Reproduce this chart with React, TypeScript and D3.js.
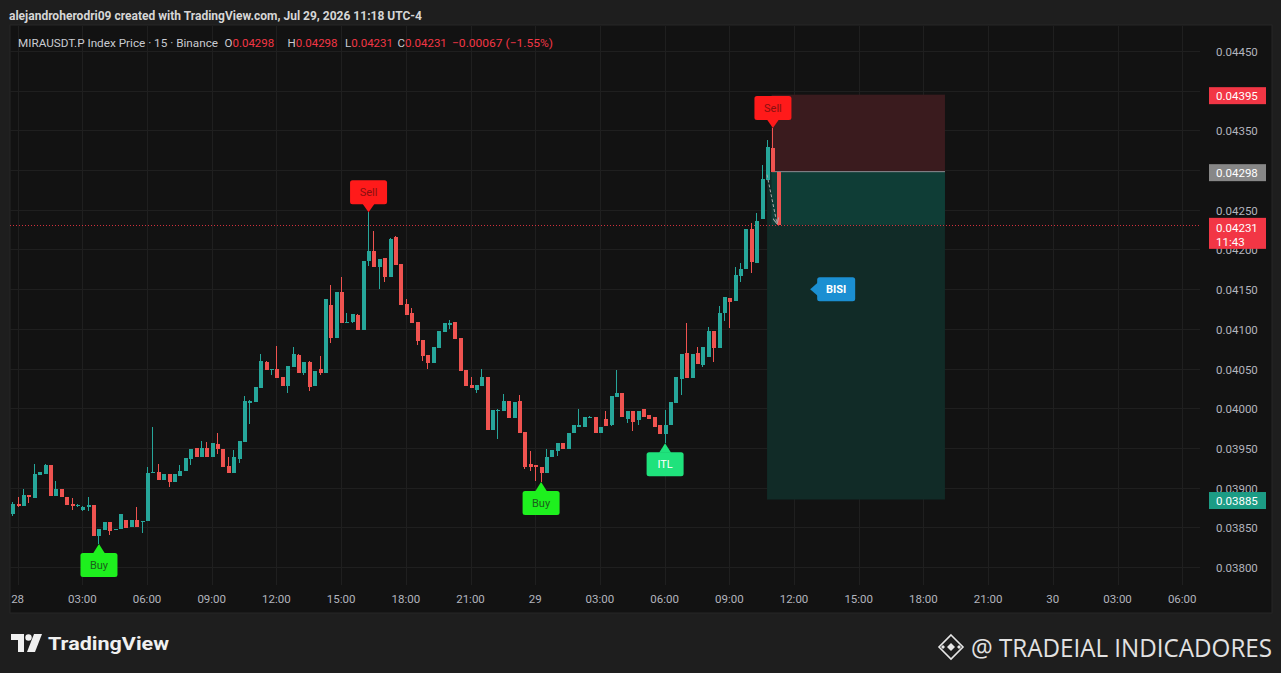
import React from "react";
import * as d3 from "d3";

// 15m candles, first bar 27 Jul 23:45
const open = [
  0.03867, 0.03879, 0.03877, 0.03891, 0.03887, 0.03916, 0.03917, 0.03928, 0.03889, 0.03898, 0.03888, 0.03879,
  0.03877, 0.03872, 0.03875, 0.03878, 0.03839, 0.03846, 0.03857, 0.03847, 0.03848, 0.03859, 0.0385, 0.03859,
  0.03857, 0.03858, 0.03918, 0.0392, 0.03909, 0.03917, 0.03907, 0.03915, 0.03921, 0.03936, 0.0395, 0.03939,
  0.0395, 0.03939, 0.03955, 0.03949, 0.03927, 0.03918, 0.03936, 0.03957, 0.04006, 0.04008, 0.04025, 0.04058,
  0.04048, 0.04049, 0.04039, 0.04028, 0.04052, 0.04067, 0.04044, 0.04058, 0.04028, 0.04049, 0.04044, 0.0413,
  0.04088, 0.04146, 0.04107, 0.04108, 0.04118, 0.04099, 0.04185, 0.04198, 0.04178, 0.04189, 0.04165, 0.04216,
  0.04182, 0.04131, 0.0412, 0.04108, 0.04086, 0.04067, 0.04057, 0.04076, 0.04096, 0.04105, 0.04108, 0.04088,
  0.04048, 0.04029, 0.04023, 0.04028, 0.04039, 0.03973, 0.03996, 0.03996, 0.04009, 0.03988, 0.04009, 0.0397,
  0.0393, 0.03928, 0.03926, 0.03918, 0.03939, 0.03946, 0.03956, 0.03949, 0.03969, 0.03976, 0.03976, 0.03989,
  0.03989, 0.03969, 0.03986, 0.03979, 0.04014, 0.04019, 0.03986, 0.03996, 0.03985, 0.03999, 0.03991, 0.03989,
  0.03979, 0.03967, 0.03979, 0.04006, 0.04037, 0.04069, 0.04038, 0.04069, 0.04054, 0.04064, 0.04097, 0.04076,
  0.0412, 0.04139, 0.04135, 0.04167, 0.04175, 0.04226, 0.04183, 0.04238, 0.04287, 0.04328, 0.04298,
];
const high = [
  0.03882, 0.03888, 0.03898, 0.03891, 0.0393, 0.0392, 0.0393, 0.03929, 0.03908, 0.03898, 0.03888, 0.03887,
  0.03879, 0.03877, 0.03888, 0.03878, 0.03848, 0.03857, 0.03857, 0.03848, 0.03867, 0.03859, 0.03859, 0.03875,
  0.03858, 0.03926, 0.03976, 0.0393, 0.03917, 0.03917, 0.03917, 0.03928, 0.03937, 0.03949, 0.0395, 0.03959,
  0.03957, 0.03956, 0.03969, 0.03949, 0.03939, 0.03947, 0.03959, 0.04015, 0.0401, 0.04027, 0.04068, 0.04059,
  0.04049, 0.04078, 0.04039, 0.04053, 0.04077, 0.04068, 0.04058, 0.04059, 0.04047, 0.04066, 0.04138, 0.04155,
  0.04146, 0.04165, 0.0412, 0.04119, 0.04119, 0.04185, 0.04247, 0.04223, 0.04188, 0.04189, 0.04214, 0.04217,
  0.04182, 0.04137, 0.04126, 0.04108, 0.04086, 0.04067, 0.04077, 0.04097, 0.04107, 0.04111, 0.04108, 0.04088,
  0.04048, 0.04039, 0.04029, 0.04049, 0.04039, 0.03998, 0.03999, 0.04018, 0.04009, 0.04008, 0.04017, 0.0397,
  0.03946, 0.03928, 0.03926, 0.03949, 0.03947, 0.03956, 0.03956, 0.03969, 0.03979, 0.03999, 0.03989, 0.0399,
  0.03989, 0.03976, 0.03996, 0.04015, 0.04048, 0.04019, 0.03996, 0.03996, 0.03996, 0.03999, 0.03991, 0.03989,
  0.03979, 0.03998, 0.04008, 0.04039, 0.04068, 0.04107, 0.04068, 0.04077, 0.04077, 0.04102, 0.04097, 0.04129,
  0.0414, 0.04139, 0.04178, 0.04183, 0.04226, 0.04233, 0.04246, 0.04306, 0.04338, 0.04353, 0.04298,
];
const low = [
  0.03864, 0.03875, 0.03877, 0.0388, 0.03887, 0.03916, 0.03917, 0.03889, 0.03889, 0.03888, 0.03878, 0.03872,
  0.03876, 0.0387, 0.0387, 0.03839, 0.03829, 0.03846, 0.0384, 0.03846, 0.03848, 0.03849, 0.0385, 0.0385,
  0.03843, 0.03858, 0.03918, 0.03909, 0.03909, 0.03901, 0.03907, 0.03915, 0.03921, 0.03928, 0.03939, 0.03939,
  0.03939, 0.03939, 0.03942, 0.03926, 0.03918, 0.03918, 0.03931, 0.03957, 0.0398, 0.04008, 0.04025, 0.04048,
  0.04042, 0.04038, 0.04028, 0.04019, 0.04052, 0.04045, 0.04042, 0.04022, 0.04028, 0.04042, 0.04044, 0.04082,
  0.04088, 0.04107, 0.04107, 0.04107, 0.04099, 0.04099, 0.04179, 0.04178, 0.0415, 0.04159, 0.04165, 0.0418,
  0.0413, 0.04118, 0.04107, 0.0408, 0.04059, 0.04049, 0.04057, 0.04076, 0.04096, 0.041, 0.04087, 0.04047,
  0.04028, 0.04025, 0.04019, 0.04028, 0.03972, 0.03973, 0.03961, 0.03996, 0.03988, 0.03988, 0.03969, 0.03923,
  0.03921, 0.03908, 0.03907, 0.03918, 0.03939, 0.0394, 0.03949, 0.03949, 0.03969, 0.03976, 0.03976, 0.03988,
  0.03969, 0.03969, 0.03977, 0.03977, 0.04014, 0.03989, 0.03981, 0.03971, 0.03979, 0.03989, 0.03986, 0.03976,
  0.03967, 0.03956, 0.03979, 0.04006, 0.04017, 0.04038, 0.04038, 0.04056, 0.04052, 0.04064, 0.04058, 0.04076,
  0.0411, 0.04101, 0.04135, 0.04159, 0.04175, 0.0417, 0.04183, 0.04238, 0.04287, 0.04298, 0.04231,
];
const close = [
  0.03879, 0.03877, 0.03891, 0.03888, 0.03917, 0.0392, 0.03928, 0.03889, 0.03898, 0.03888, 0.03878, 0.03877,
  0.03878, 0.03875, 0.03878, 0.03839, 0.03848, 0.03857, 0.03845, 0.03848, 0.03867, 0.03849, 0.03859, 0.0385,
  0.03858, 0.03918, 0.0392, 0.03909, 0.03917, 0.03907, 0.03917, 0.03921, 0.03937, 0.03949, 0.03939, 0.0395,
  0.03939, 0.03956, 0.03949, 0.03926, 0.03918, 0.03939, 0.03959, 0.04009, 0.04009, 0.04027, 0.04059, 0.04048,
  0.04049, 0.04038, 0.04028, 0.04053, 0.04068, 0.04045, 0.04058, 0.04027, 0.04047, 0.04044, 0.04137, 0.04088,
  0.04146, 0.04107, 0.04109, 0.04119, 0.04099, 0.04185, 0.04198, 0.04178, 0.04188, 0.04165, 0.04213, 0.0418,
  0.0413, 0.04118, 0.04107, 0.04085, 0.04066, 0.04057, 0.04077, 0.04097, 0.04107, 0.04107, 0.04087, 0.04047,
  0.04028, 0.04025, 0.04029, 0.04039, 0.03972, 0.03998, 0.03998, 0.04009, 0.03988, 0.04008, 0.03969, 0.03926,
  0.03926, 0.03926, 0.03918, 0.03939, 0.03947, 0.03956, 0.03949, 0.03969, 0.03979, 0.03979, 0.03989, 0.03989,
  0.03969, 0.03976, 0.03977, 0.04015, 0.04019, 0.03989, 0.03996, 0.03983, 0.03996, 0.03989, 0.03986, 0.03976,
  0.03967, 0.03979, 0.04008, 0.04039, 0.04068, 0.04038, 0.04068, 0.04056, 0.04077, 0.04097, 0.04076, 0.0412,
  0.0414, 0.04134, 0.04168, 0.04175, 0.04226, 0.04184, 0.04236, 0.04289, 0.04329, 0.04298, 0.04231,
];

const priceTicks = [
  0.038, 0.0385, 0.039, 0.0395, 0.04, 0.0405, 0.041, 0.0415, 0.042, 0.0425, 0.043, 0.0435, 0.044, 0.0445,
];

// indicator labels: bar index, text, style
const signals = [
  { bar: 16, text: "Buy", kind: "buy" },
  { bar: 66, text: "Sell", kind: "sell" },
  { bar: 98, text: "Buy", kind: "buy" },
  { bar: 121, text: "ITL", kind: "itl" },
  { bar: 141, text: "Sell", kind: "sell" },
];

// short position tool
const entry = 0.04298;
const stop = 0.04395;
const target = 0.03885;
const lastPrice = 0.04231;
const positionStartBar = 140;
const positionEnd = new Date(Date.UTC(2026, 6, 29, 19, 0));
const bisiTime = new Date(Date.UTC(2026, 6, 29, 12, 45));
const bisiPrice = 0.0415;

const firstBar = Date.UTC(2026, 6, 27, 23, 45);
const barMs = 15 * 60 * 1000;
const times = open.map((_, i) => new Date(firstBar + i * barMs));

const UP = "#26a69a";
const DOWN = "#ef5350";
const AXIS_TEXT = "#b2b5be";
const FONT = "Roboto, 'Noto Sans', sans-serif";

const labelStyle: Record<string, { fill: string; text: string }> = {
  buy: { fill: "#1ef01e", text: "#1b5e1b" },
  sell: { fill: "#ff1a1a", text: "#8a1010" },
  itl: { fill: "#1fe27c", text: "#ffffff" },
};

const fmt = (v: number) => v.toFixed(5);

const App = () => {
  const W = 1281,
    H = 673;
  const plotLeft = 10,
    plotRight = 1200,
    plotBottom = 585;

  const x = d3
    .scaleUtc()
    .domain([new Date(Date.UTC(2026, 6, 28, 0)), new Date(Date.UTC(2026, 6, 30, 6))])
    .range([17.6, 1182.2]);
  const y = d3.scaleLinear().domain([0.038, 0.0445]).range([567, 51]);

  const timeTicks = x.ticks(d3.utcHour.every(3) as any);
  const timeLabel = (d: Date) =>
    d.getUTCHours() === 0 ? d3.utcFormat("%-d")(d) : d3.utcFormat("%H:%M")(d);

  const last = open.length - 1;
  const posLeft = x(times[positionStartBar]);
  const posRight = x(positionEnd);
  const yEntry = y(entry),
    yStop = y(stop),
    yTarget = y(target),
    yLast = y(lastPrice);

  const arrowFrom = [posLeft, yEntry + 3];
  const arrowTo = [x(times[last]) - 1, yLast - 2];

  const bx = x(bisiTime),
    by = y(bisiPrice);

  const ohlc: [string, number, number][] = [
    ["O", open[last], 224.5],
    ["H", high[last], 287.5],
    ["L", low[last], 345],
    ["C", close[last], 397.5],
  ];

  return (
    <div style={{ position: "fixed", left: 0, top: 0 }}>
      <svg width={W} height={H} style={{ display: "block" }} fontFamily={FONT}>
        <defs>
          <marker id="arr" viewBox="0 0 6 6" refX="5" refY="3" markerWidth="6" markerHeight="6" orient="auto">
            <path d="M0,0 L6,3 L0,6" fill="none" stroke="#a8a8a8" strokeWidth="1" />
          </marker>
        </defs>
        <rect width={W} height={H} fill="#1e1e1e" />

        <text x={9} y={15.5} dominantBaseline="central" fill="#d6d6d6" fontSize={12.5} fontWeight={700}
          textLength={413} lengthAdjust="spacingAndGlyphs">
          alejandroherodri09 created with TradingView.com, Jul 29, 2026 11:18 UTC-4
        </text>

        {/* chart panel */}
        <rect x={10} y={25} width={1262} height={588} fill="#121212" stroke="#262626" />

        <g shapeRendering="crispEdges" stroke="#1f1f1f">
          {timeTicks.map((t, i) => (
            <line key={"vg" + i} x1={Math.round(x(t)) + 0.5} x2={Math.round(x(t)) + 0.5} y1={26} y2={plotBottom} />
          ))}
          {priceTicks.map((p, i) => (
            <line key={"hg" + i} x1={plotLeft} x2={plotRight} y1={Math.round(y(p)) + 0.5} y2={Math.round(y(p)) + 0.5} />
          ))}
        </g>

        {/* legend */}
        <g fontSize={11.5} dominantBaseline="central">
          <text x={18} y={43} fill="#c9cbd1" textLength={200} lengthAdjust="spacingAndGlyphs">
            MIRAUSDT.P Index Price · 15 · Binance
          </text>
          {ohlc.map(([k, v, kx]) => (
            <text key={k} x={kx} y={43} fill="#c9cbd1">
              {k}
              <tspan fill="#f23645">{fmt(v)}</tspan>
            </text>
          ))}
          <text x={452} y={43} fill="#f23645" textLength={101} lengthAdjust="spacingAndGlyphs">
            −0.00067 (−1.55%)
          </text>
        </g>

        {/* short position */}
        <rect x={posLeft} y={yEntry} width={posRight - posLeft} height={yTarget - yEntry} fill="#112b27" />
        <rect x={posLeft + 4.5} y={yEntry} width={posRight - posLeft - 4.5} height={yLast - yEntry} fill="#0f3d36" />
        <rect x={posLeft + 4.5} y={yStop} width={posRight - posLeft - 4.5} height={yEntry - yStop} fill="#3a1b1e" />
        <line x1={posLeft + 4.5} x2={posRight} y1={yEntry} y2={yEntry} stroke="#8f9096" strokeWidth={1} />

        {/* last price line */}
        <line x1={plotLeft} x2={plotRight} y1={Math.round(yLast) + 0.5} y2={Math.round(yLast) + 0.5}
          stroke="#f23645" strokeDasharray="1 2" opacity={0.85} />

        {/* candles */}
        <g shapeRendering="crispEdges">
          {times.map((t, i) => {
            const cx = Math.round(x(t));
            const o = open[i], c = close[i];
            const col = c >= o ? UP : DOWN;
            const top = y(Math.max(o, c));
            const bh = Math.max(1, Math.abs(y(o) - y(c)));
            return (
              <g key={i}>
                <line x1={cx + 0.5} x2={cx + 0.5} y1={y(high[i])} y2={y(low[i])} stroke={col} />
                <rect x={cx - 1.5} y={top} width={4} height={bh} fill={col} />
              </g>
            );
          })}
        </g>

        <line x1={arrowFrom[0]} y1={arrowFrom[1]} x2={arrowTo[0]} y2={arrowTo[1]} stroke="#a8a8a8"
          strokeDasharray="3 2" markerEnd="url(#arr)" />

        {/* signal labels */}
        {signals.map((s, i) => {
          const st = labelStyle[s.kind];
          const tx = x(times[s.bar]) + 0.5;
          const isSell = s.kind === "sell";
          const tip = isSell ? y(high[s.bar]) : y(low[s.bar]);
          const bTop = isSell ? tip - 32 : tip + 9;
          const bEdge = isSell ? tip - 8.5 : tip + 9.5;
          return (
            <g key={"s" + i}>
              <path d={`M${tx - 6},${bEdge} L${tx},${tip} L${tx + 6},${bEdge} Z`} fill={st.fill} />
              <rect x={tx - 18.5} y={bTop} width={37} height={24} rx={2.5} fill={st.fill} />
              <text x={tx} y={bTop + 12.5} textAnchor="middle" dominantBaseline="central" fontSize={11}
                fill={st.text}>{s.text}</text>
            </g>
          );
        })}

        {/* BISI */}
        <g>
          <path d={`M${bx},${by} L${bx + 8},${by - 7} L${bx + 8},${by + 7} Z`} fill="#1b8fd2" />
          <rect x={bx + 7} y={by - 12} width={38} height={24} rx={2.5} fill="#1b8fd2" />
          <text x={bx + 26} y={by + 0.5} textAnchor="middle" dominantBaseline="central" fontSize={11}
            fontWeight={700} fill="#ffffff">BISI</text>
        </g>

        {/* price axis */}
        <g fontSize={11.5} fill={AXIS_TEXT}>
          {priceTicks.map((p, i) => (
            <text key={"pt" + i} x={1216} y={y(p) + 1} dominantBaseline="central">{fmt(p)}</text>
          ))}
        </g>
        {[
          { v: stop, fill: "#f23645" },
          { v: entry, fill: "#878787" },
          { v: target, fill: "#1c9c85" },
        ].map((b, i) => (
          <g key={"pb" + i}>
            <rect x={1209} y={y(b.v) - 7.5} width={57} height={17} fill={b.fill} />
            <text x={1216} y={y(b.v) + 1} dominantBaseline="central" fontSize={11.5} fill="#ffffff">{fmt(b.v)}</text>
          </g>
        ))}
        <rect x={1209} y={yLast - 7} width={57} height={31} fill="#f23645" />
        <text x={1216} y={yLast + 3} dominantBaseline="central" fontSize={11.5} fill="#ffffff">{fmt(lastPrice)}</text>
        <text x={1216} y={yLast + 17} dominantBaseline="central" fontSize={11.5} fill="#ffffff">11:43</text>

        {/* time axis */}
        <g fontSize={11.5} fill={AXIS_TEXT} textAnchor="middle">
          {timeTicks.map((t, i) => (
            <text key={"tt" + i} x={x(t)} y={598.5} dominantBaseline="central">{timeLabel(t)}</text>
          ))}
        </g>

        {/* footer */}
        <g fill="#f0f0f0">
          <path d="M11,634 H24 V652 H18 V640 H11 Z" />
          <circle cx={28.5} cy={637.5} r={3.2} />
          <path d="M34,634 H42 L35,652 H27 Z" />
          <text x={48} y={643} dominantBaseline="central" fontSize={19} fontWeight={700}
            textLength={121} lengthAdjust="spacingAndGlyphs">TradingView</text>
        </g>
        <g transform="translate(951,647)" fill="none" stroke="#e6e6e6" strokeWidth={2}>
          <path d="M0,-12 L12,0 L0,12 L-12,0 Z" strokeWidth={1.6} />
          <path d="M0,-4 L4,0 L0,4 L-4,0 Z" fill="#e6e6e6" stroke="none" />
          <path d="M-8,-2 L-6,0 L-8,2 L-10,0 Z M8,-2 L10,0 L8,2 L6,0 Z" fill="#e6e6e6" stroke="none" />
        </g>
        <text x={971} y={647} dominantBaseline="central" fontSize={25} fill="#e2e2e2"
          fontFamily="'Open Sans', sans-serif" textLength={301} lengthAdjust="spacingAndGlyphs">
          @ TRADEIAL INDICADORES
        </text>
      </svg>
    </div>
  );
};

export default App;
